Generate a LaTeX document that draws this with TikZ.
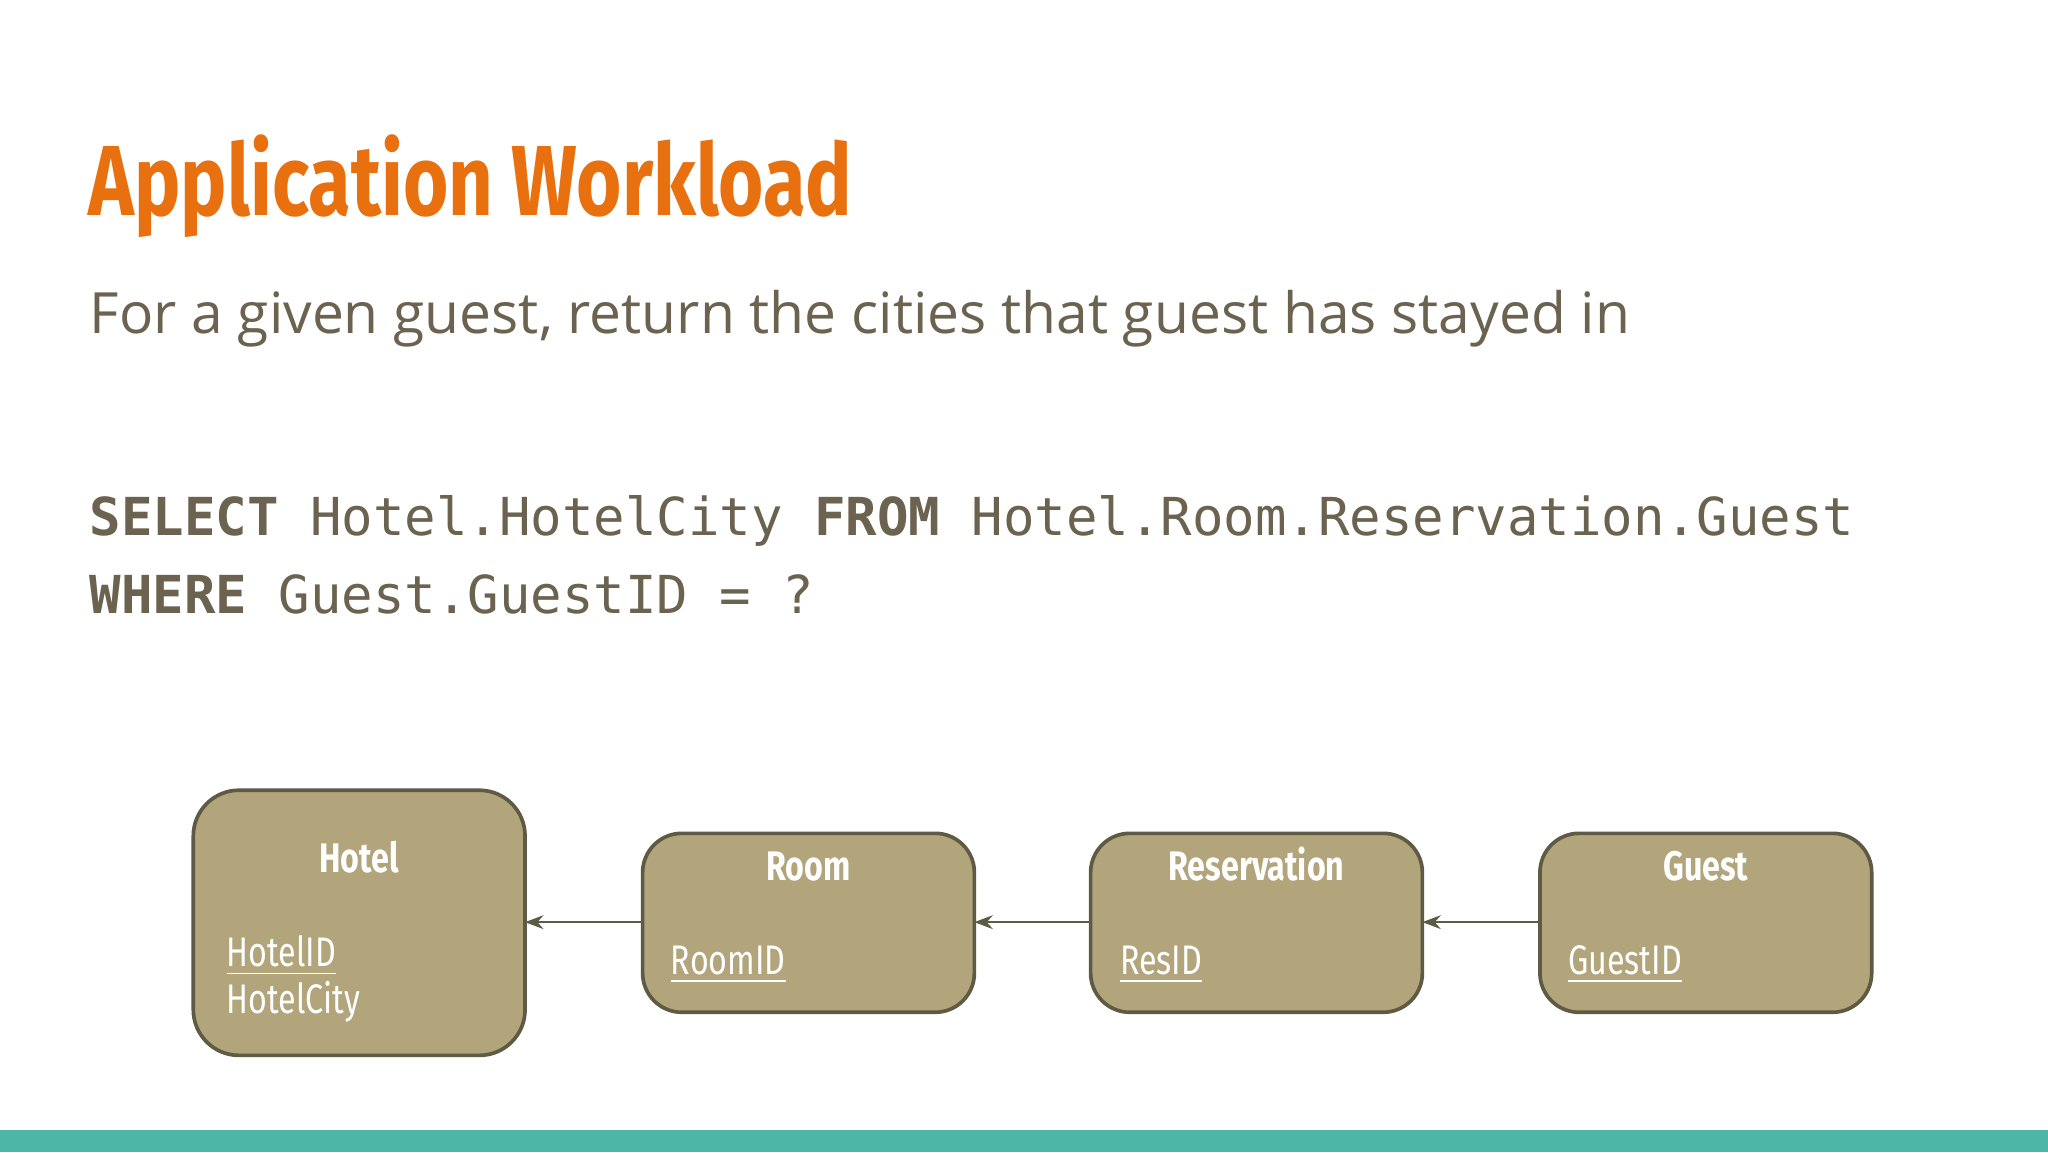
\documentclass[tikz,border=0pt]{standalone}
\usepackage{fontspec}
\setmainfont{Open Sans}
\setmonofont{DejaVu Sans Mono}
\newfontfamily\condfont[FakeStretch=0.78]{Fira Sans}
\usetikzlibrary{arrows.meta}
\definecolor{titleor}{HTML}{E8700F}
\definecolor{bodytxt}{HTML}{6B6250}
\definecolor{boxfill}{HTML}{B2A57C}
\definecolor{boxline}{HTML}{5E5A44}
\definecolor{teal}{HTML}{4DB6A6}
\begin{document}
\begin{tikzpicture}[x=1cm,y=-1cm,
  ent/.style={draw=boxline,fill=boxfill,line width=0.8pt,rounded corners=0.3cm},
  etitle/.style={text=white,font=\condfont\bfseries\fontsize{9}{11}\selectfont,anchor=base},
  eattr/.style={text=white,font=\condfont\fontsize{9}{11}\selectfont,anchor=base west},
  link/.style={draw=boxline,line width=0.5pt,-{Stealth[length=4pt,width=3pt]}}]
\fill[white!98!black!1] (0,0) rectangle (15.68,8.82);
\useasboundingbox (0,0) rectangle (15.68,8.82);
\fill[teal] (0,8.65) rectangle (15.68,8.82);
\node[anchor=base west,inner sep=0,text=titleor,font=\condfont\bfseries\fontsize{21.7}{26}\selectfont] (title) at (0.67,1.65) {Application Workload};
\node[anchor=base west,inner sep=0,text=bodytxt,font=\fontsize{12.4}{15}\selectfont] (sub) at (0.68,2.55) {For a given guest, return the cities that guest has stayed in};
\node[anchor=base west,inner sep=0,text=bodytxt,font=\ttfamily\fontsize{11.4}{14}\selectfont] (q1) at (0.68,4.1) {\textbf{SELECT} Hotel.HotelCity \textbf{FROM} Hotel.Room.Reservation.Guest};
\node[anchor=base west,inner sep=0,text=bodytxt,font=\ttfamily\fontsize{11.4}{14}\selectfont] (q2) at (0.68,4.7) {\textbf{WHERE} Guest.GuestID = ?};
% boxes
\path[ent,rounded corners=0.35cm] (1.48,6.05) rectangle (4.02,8.08);
\path[ent] (4.92,6.38) rectangle (7.46,7.75);
\path[ent] (8.35,6.38) rectangle (10.89,7.75);
\path[ent] (11.79,6.38) rectangle (14.33,7.75);
\coordinate (hR) at (4.02,7.06);
\coordinate (rL) at (4.92,7.06);
\coordinate (rR) at (7.46,7.06);
\coordinate (sL) at (8.35,7.06);
\coordinate (sR) at (10.89,7.06);
\coordinate (gL) at (11.79,7.06);
\node[etitle] (th) at (2.75,6.68) {Hotel};
\node[etitle] (tr) at (6.19,6.74) {Room};
\node[etitle] (ts) at (9.62,6.74) {Reservation};
\node[etitle] (tg) at (13.06,6.74) {Guest};
\node[eattr,inner sep=0] (a1) at (1.73,7.40) {\underline{HotelID}};
\node[eattr,inner sep=0] (a2) at (1.73,7.76) {HotelCity};
\node[eattr,inner sep=0] (a3) at (5.13,7.46) {\underline{RoomID}};
\node[eattr,inner sep=0] (a4) at (8.57,7.46) {\underline{ResID}};
\node[eattr,inner sep=0] (a5) at (12.00,7.46) {\underline{GuestID}};
\draw[link] (rL) -- (hR);
\draw[link] (sL) -- (rR);
\draw[link] (gL) -- (sR);
\end{tikzpicture}
\end{document}
